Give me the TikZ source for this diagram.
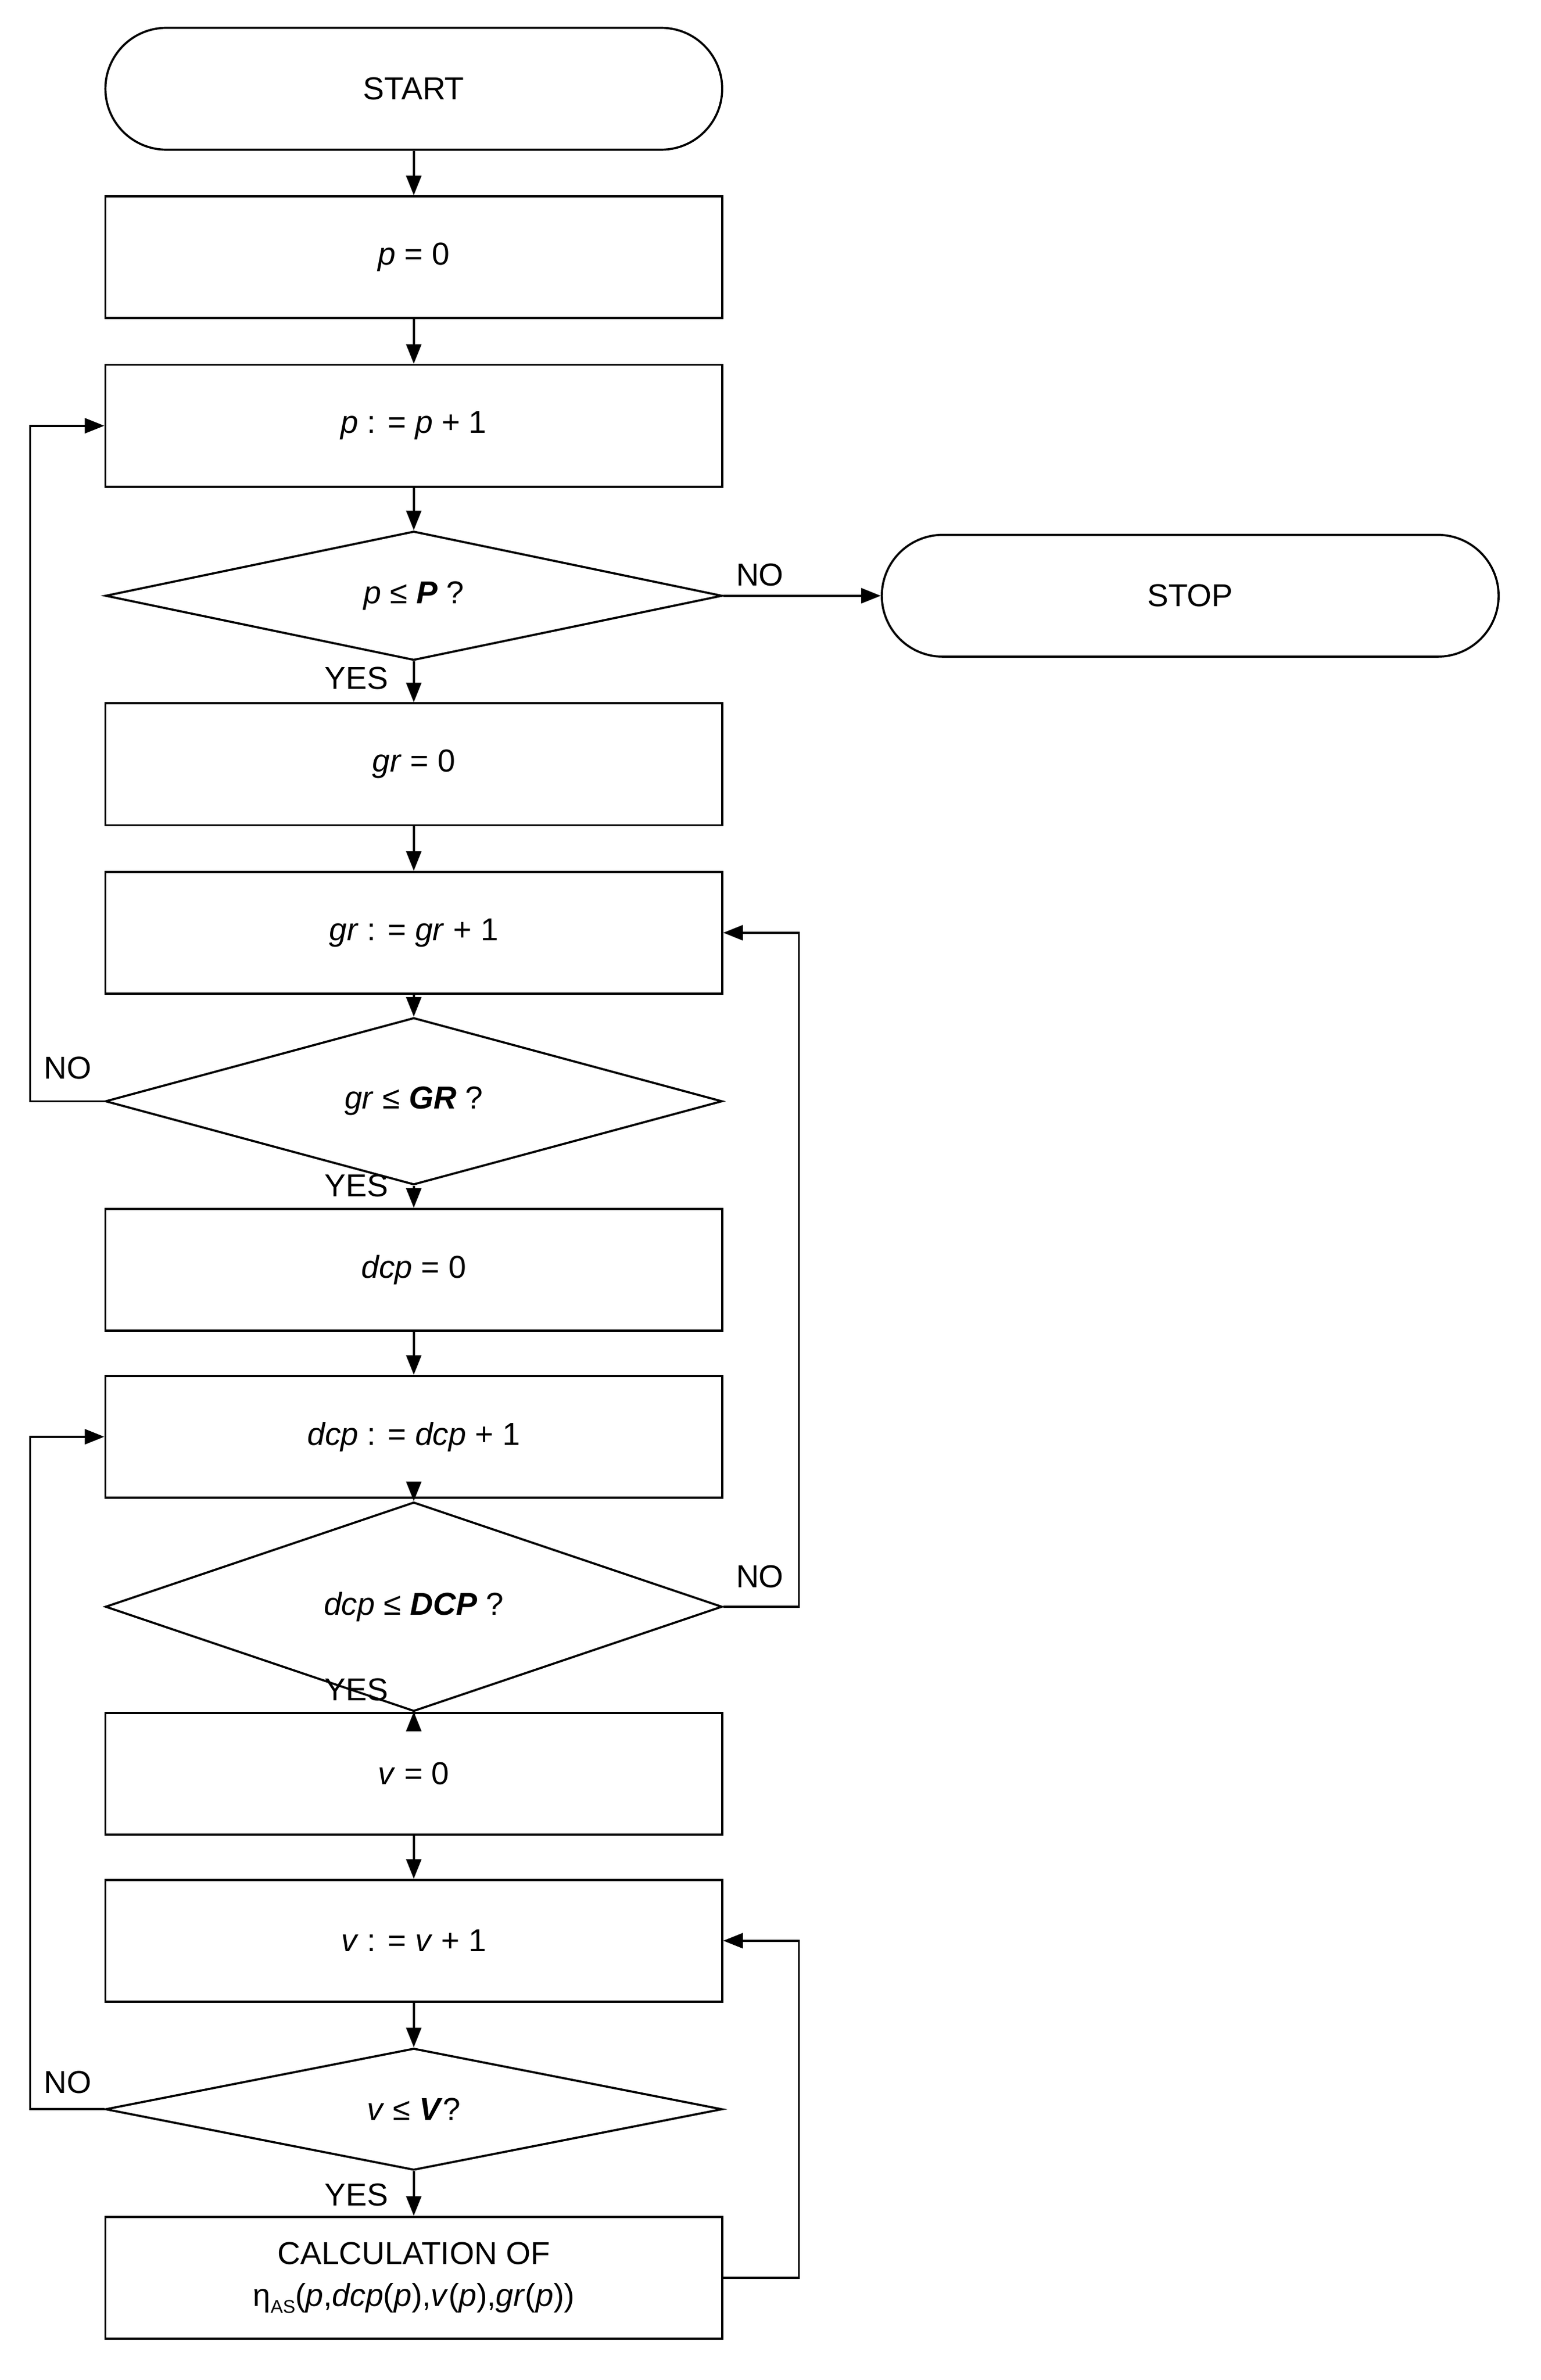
\documentclass[tikz,border=0pt]{standalone}
\usepackage{fontspec}
\setmainfont{Liberation Sans}
\usetikzlibrary{shapes.geometric,arrows.meta}
\begin{document}
\begin{tikzpicture}[x=0.02cm,y=-0.02cm,
  every node/.style={font=\fontsize{12}{14}\selectfont},
  box/.style={draw,line width=0.8pt,minimum width=8.2cm,minimum height=1.62cm,inner sep=0},
  term/.style={box,rounded corners=0.81cm},
  dia/.style={draw,line width=0.8pt,diamond,minimum width=8.2cm,minimum height=1.62cm,inner sep=0},
  arr/.style={line width=0.8pt,-{Triangle[length=0.26cm,width=0.2cm]}},
  lab/.style={inner sep=1pt}]
\useasboundingbox (0,0) rectangle (1024,1582);
\node[term] (start) at (275,59) {START};
\node[box] (p0) at (275,171) {\textit{p} = 0};
\node[box] (p1) at (275,283) {\textit{p} : = \textit{p} + 1};
\node[dia] (dp) at (275,396) {\textit{p} ≤ \textbf{\textit{P}} ?};
\node[term] (stop) at (791,396) {STOP};
\node[box] (g0) at (275,508) {\textit{gr} = 0};
\node[box] (g1) at (275,620) {\textit{gr} : = \textit{gr} + 1};
\node[dia] (dg) at (275,732) {\textit{gr} ≤ \textbf{\textit{GR}} ?};
\node[box] (d0) at (275,844) {\textit{dcp} = 0};
\node[box] (d1) at (275,955) {\textit{dcp} : = \textit{dcp} + 1};
\node[dia] (dd) at (275,1068) {\textit{dcp} ≤ \textbf{\textit{DCP}} ?};
\node[box] (v0) at (275,1179) {\textit{v} = 0};
\node[box] (v1) at (275,1290) {\textit{v} : = \textit{v} + 1};
\node[dia] (dv) at (275,1402) {\textit{v} ≤ \textbf{\textit{V}}?};
\node[box,align=center] (calc) at (275,1514) {CALCULATION OF\\[2pt]η\raisebox{-0.4ex}{\scriptsize AS}(\textit{p},\textit{dcp}(\textit{p}),\textit{v}(\textit{p}),\textit{gr}(\textit{p}))};
\draw[arr] (start) -- (p0);
\draw[arr] (p0) -- (p1);
\draw[arr] (p1) -- (dp);
\draw[arr] (dp) -- (g0);
\draw[arr] (dp.east) -- (stop.west);
\draw[arr] (g0) -- (g1);
\draw[arr] (g1) -- (dg);
\draw[arr] (dg) -- (d0);
\draw[arr] (d0) -- (d1);
\draw[arr] (d1) -- (dd);
\draw[arr] (dd) -- (v0);
\draw[arr] (v0) -- (v1);
\draw[arr] (v1) -- (dv);
\draw[arr] (dv) -- (calc);
\draw[arr] (dg.west) -- (20,732) -- (20,283) -- (p1.west);
\draw[arr] (dd.east) -- (531,1068) -- (531,620) -- (g1.east);
\draw[arr] (dv.west) -- (20,1402) -- (20,955) -- (d1.west);
\draw[arr] (calc.east) -- (531,1514) -- (531,1290) -- (v1.east);
\node[lab] (n1) at (505,382) {NO};
\node[lab] (n2) at (45,710) {NO};
\node[lab] (n3) at (505,1048) {NO};
\node[lab] (n4) at (45,1384) {NO};
\node[lab] (y1) at (237,451) {YES};
\node[lab] (y2) at (237,788) {YES};
\node[lab] (y3) at (237,1123) {YES};
\node[lab] (y4) at (237,1459) {YES};
\end{tikzpicture}
\end{document}
